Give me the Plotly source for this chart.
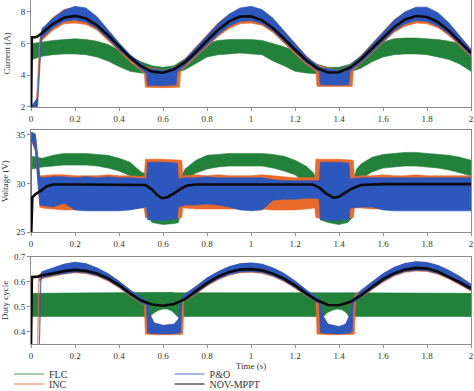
import plotly.graph_objects as go
from plotly.subplots import make_subplots

# ---------------- Current panel ----------------
T_NOV_I = [0, 0.004, 0.02, 0.03, 0.05, 0.10, 0.15, 0.20, 0.25, 0.30, 0.35, 0.40, 0.45, 0.50,
           0.55, 0.60, 0.65, 0.70, 0.75, 0.80, 0.85, 0.90, 0.95, 1.00, 1.05, 1.10, 1.15, 1.20,
           1.25, 1.30, 1.35, 1.40, 1.45, 1.50, 1.55, 1.60, 1.65, 1.70, 1.75, 1.80, 1.85, 1.90,
           1.95, 2.00]
NOV_I = [1.5, 6.4, 6.4, 6.45, 6.67, 7.25, 7.63, 7.75, 7.58, 7.15, 6.53, 5.82, 5.13, 4.57,
         4.23, 4.16, 4.37, 4.83, 5.47, 6.18, 6.86, 7.40, 7.70, 7.72, 7.47, 6.98, 6.33, 5.61,
         4.96, 4.45, 4.18, 4.19, 4.48, 5.01, 5.68, 6.40, 7.03, 7.52, 7.74, 7.68, 7.35, 6.80,
         6.12, 5.42]

T_PO_I = [0, 0.03, 0.045, 0.05, 0.10, 0.15, 0.20, 0.25, 0.30, 0.35, 0.40, 0.45, 0.50,
          0.525, 0.53, 0.60, 0.66, 0.665,
          0.70, 0.75, 0.80, 0.85, 0.90, 0.95, 1.00, 1.05, 1.10, 1.15, 1.20, 1.25, 1.30,
          1.31, 1.315, 1.40, 1.445, 1.45,
          1.50, 1.55, 1.60, 1.65, 1.70, 1.75, 1.80, 1.85, 1.90, 1.95, 2.00]
PO_I_UP = [2.0, 2.6, 6.5, 6.95, 7.6, 8.1, 8.35, 8.25, 7.7, 6.85, 6.05, 5.3, 4.75,
           4.5, 4.45, 4.3, 4.5, 4.55,
           5.0, 5.75, 6.5, 7.25, 7.85, 8.25, 8.35, 8.15, 7.6, 6.8, 5.95, 5.2, 4.65,
           4.55, 4.5, 4.3, 4.55, 4.6,
           5.2, 5.95, 6.75, 7.45, 8.0, 8.3, 8.3, 7.95, 7.3, 6.5, 5.65]
PO_I_LO = [2.0, 2.0, 5.6, 6.35, 7.0, 7.4, 7.5, 7.35, 6.95, 6.3, 5.6, 4.95, 4.4,
           4.1, 3.35, 3.35, 3.4, 4.2,
           4.6, 5.2, 5.9, 6.55, 7.1, 7.4, 7.45, 7.25, 6.8, 6.15, 5.45, 4.8, 4.3,
           4.25, 3.4, 3.38, 3.4, 4.25,
           4.8, 5.45, 6.15, 6.8, 7.25, 7.45, 7.4, 7.1, 6.6, 5.95, 5.25]

T_INC_I = [0, 0.025, 0.04, 0.05, 0.10, 0.15, 0.20, 0.25, 0.30, 0.35, 0.40, 0.45, 0.50,
           0.515, 0.52, 0.60, 0.675, 0.68,
           0.70, 0.75, 0.80, 0.85, 0.90, 0.95, 1.00, 1.05, 1.10, 1.15, 1.20, 1.25,
           1.295, 1.30, 1.40, 1.46, 1.465,
           1.50, 1.55, 1.60, 1.65, 1.70, 1.75, 1.80, 1.85, 1.90, 1.95, 2.00]
INC_I_UP = [2.0, 2.4, 6.3, 6.9, 7.65, 8.15, 8.3, 8.15, 7.6, 6.8, 6.0, 5.3, 4.75,
            4.6, 4.55, 4.3, 4.6, 4.65,
            5.05, 5.8, 6.55, 7.3, 7.85, 8.2, 8.25, 8.05, 7.55, 6.8, 6.0, 5.25,
            4.7, 4.65, 4.3, 4.65, 4.7,
            5.25, 6.0, 6.8, 7.5, 8.0, 8.25, 8.2, 7.85, 7.25, 6.45, 5.6]
INC_I_LO = [2.0, 2.0, 5.5, 6.2, 6.85, 7.25, 7.3, 7.2, 6.85, 6.2, 5.5, 4.85, 4.3,
            4.1, 3.25, 3.22, 3.25, 4.3,
            4.5, 5.1, 5.8, 6.45, 6.95, 7.25, 7.3, 7.15, 6.7, 6.05, 5.35, 4.7,
            4.25, 3.3, 3.3, 3.3, 4.3,
            4.7, 5.35, 6.05, 6.7, 7.1, 7.3, 7.25, 7.0, 6.5, 5.85, 5.15]

T_FLC_I = [0.005, 0.05, 0.10, 0.15, 0.20, 0.25, 0.30, 0.35, 0.40, 0.45, 0.50,
           0.55, 0.60, 0.65, 0.70, 0.75, 0.80, 0.85, 0.90, 0.95, 1.00,
           1.05, 1.10, 1.15, 1.20, 1.25, 1.30, 1.35, 1.40, 1.45, 1.50,
           1.55, 1.60, 1.65, 1.70, 1.75, 1.80, 1.85, 1.90, 1.95, 2.00]
FLC_I_UP = [6.0, 6.1, 6.2, 6.25, 6.3, 6.25, 6.15, 5.95, 5.6, 5.2, 4.85,
            4.6, 4.5, 4.6, 5.05, 5.6, 6.0, 6.2, 6.25, 6.25, 6.25,
            6.2, 6.0, 5.8, 5.55, 5.1, 4.7, 4.5, 4.5, 4.7, 5.2,
            5.75, 6.1, 6.3, 6.35, 6.35, 6.3, 6.25, 6.15, 6.0, 5.55]
FLC_I_LO = [5.0, 5.2, 5.3, 5.35, 5.35, 5.3, 5.15, 4.9, 4.55, 4.25, 4.15,
            4.1, 4.1, 4.1, 4.35, 4.75, 5.15, 5.3, 5.35, 5.4, 5.35,
            5.3, 4.9, 4.6, 4.25, 4.15, 4.1, 4.1, 4.1, 4.2, 4.45,
            4.85, 5.15, 5.3, 5.35, 5.35, 5.3, 5.15, 5.0, 4.7, 4.25]

# ---------------- Voltage panel ----------------
T_NOV_V = [0, 0.006, 0.02, 0.035, 0.05, 0.07, 0.09, 0.10, 0.20, 0.30, 0.40, 0.50,
           0.52, 0.55, 0.575, 0.595, 0.62, 0.65, 0.68, 0.71, 0.75, 0.90, 1.10, 1.28,
           1.31, 1.34, 1.375, 1.40, 1.43, 1.46, 1.50, 1.60, 1.80, 2.00]
NOV_V = [24.0, 28.6, 28.9, 29.1, 29.35, 29.7, 29.85, 29.9, 29.9, 29.9, 29.9, 29.9,
         29.85, 29.4, 28.8, 28.5, 28.6, 29.0, 29.45, 29.8, 29.9, 29.9, 29.9, 29.9,
         29.6, 29.0, 28.55, 28.65, 29.1, 29.5, 29.85, 29.95, 29.95, 29.95]

T_PO_V = [0, 0.002, 0.02, 0.03, 0.04,
          0.05, 0.10, 0.15, 0.20, 0.25, 0.30, 0.35, 0.40, 0.45, 0.50,
          0.525, 0.53, 0.60, 0.665, 0.67,
          0.70, 0.75, 0.80, 0.85, 0.90, 0.95, 1.00, 1.05, 1.10, 1.15, 1.20, 1.25, 1.30,
          1.31, 1.315, 1.40, 1.445, 1.45,
          1.50, 1.55, 1.60, 1.65, 1.70, 1.75, 1.80, 1.85, 1.90, 1.95, 2.00]
PO_V_UP = [24.5, 35.3, 35.1, 33.0, 30.7,
           30.6, 30.7, 30.7, 30.6, 30.7, 30.6, 30.7, 30.6, 30.6, 30.5,
           30.5, 32.2, 32.2, 32.1, 30.5,
           30.6, 30.6, 30.7, 30.6, 30.6, 30.6, 30.6, 30.6, 30.4, 30.3, 30.3, 30.3, 30.3,
           30.3, 32.2, 32.2, 32.1, 30.5,
           30.6, 30.6, 30.6, 30.6, 30.6, 30.6, 30.6, 30.6, 30.6, 30.6, 30.6]
PO_V_LO = [24.5, 34.5, 33.5, 30.5, 27.8,
           27.8, 27.6, 28.0, 27.3, 27.2, 27.2, 27.2, 27.2, 27.3, 27.5,
           27.6, 26.3, 26.2, 26.4, 27.6,
           27.8, 27.8, 27.9, 27.8, 27.6, 27.3, 27.2, 27.3, 28.3, 28.4, 28.4, 28.5, 28.5,
           28.4, 26.3, 26.2, 26.4, 27.5,
           27.6, 27.6, 27.3, 27.2, 27.2, 27.2, 27.2, 27.2, 27.2, 27.2, 27.2]

T_INC_V = [0, 0.002, 0.02, 0.03, 0.04, 0.05,
           0.10, 0.15, 0.20, 0.25, 0.30, 0.35, 0.40, 0.45, 0.50,
           0.515, 0.52, 0.60, 0.685, 0.69,
           0.70, 0.75, 0.80, 0.85, 0.90, 0.95, 1.00, 1.05, 1.10, 1.15, 1.20, 1.25,
           1.29, 1.295, 1.40, 1.465, 1.47,
           1.50, 1.55, 1.60, 1.65, 1.70, 1.75, 1.80, 1.85, 1.90, 1.95, 2.00]
INC_V_UP = [24.5, 35.2, 35.0, 32.8, 30.8, 30.8,
            30.9, 30.9, 30.8, 30.8, 30.8, 30.9, 30.8, 30.8, 30.7,
            30.7, 32.5, 32.5, 32.4, 30.7,
            30.8, 30.9, 30.8, 30.9, 30.8, 30.8, 30.8, 30.9, 30.8, 30.7, 30.6, 30.6,
            30.6, 32.5, 32.5, 32.4, 30.7,
            30.8, 30.8, 30.9, 30.8, 30.8, 30.9, 30.8, 30.8, 30.8, 30.8, 30.8]
INC_V_LO = [24.5, 34.4, 33.3, 30.3, 27.6, 27.5,
            27.4, 27.3, 27.3, 27.3, 27.3, 27.3, 27.3, 27.4, 27.5,
            27.5, 26.5, 26.4, 26.5, 27.5,
            27.5, 27.4, 27.4, 27.4, 27.4, 27.4, 27.4, 27.4, 27.3, 27.3, 27.3, 27.4,
            27.5, 26.5, 26.4, 26.5, 27.5,
            27.5, 27.4, 27.4, 27.4, 27.4, 27.4, 27.4, 27.4, 27.4, 27.4, 27.4]

T_FLC_V = [0.005, 0.05, 0.10, 0.15, 0.20, 0.25, 0.30, 0.35, 0.40, 0.45,
           0.48, 0.50, 0.52, 0.535, 0.55, 0.60, 0.65, 0.67, 0.69, 0.70,
           0.75, 0.80, 0.85, 0.90, 0.95, 1.00, 1.05, 1.10, 1.15, 1.20,
           1.25, 1.28, 1.30, 1.315, 1.35, 1.40, 1.44, 1.46, 1.48, 1.50,
           1.55, 1.60, 1.65, 1.70, 1.75, 1.80, 1.85, 1.90, 1.95, 2.00]
FLC_V_UP = [32.8, 32.6, 32.9, 33.1, 33.1, 33.1, 33.0, 32.9, 32.6, 32.2,
            31.6, 31.2, 31.0, 28.5, 27.0, 26.8, 27.0, 29.5, 31.0, 31.5,
            32.4, 32.9, 33.0, 33.1, 33.1, 33.1, 33.1, 33.0, 32.8, 32.4,
            31.8, 31.2, 30.5, 27.5, 27.0, 26.8, 27.0, 30.0, 31.5, 32.0,
            32.7, 33.0, 33.1, 33.2, 33.2, 33.1, 33.0, 32.9, 32.7, 32.4]
FLC_V_LO = [31.5, 31.7, 31.8, 31.9, 31.9, 31.9, 31.8, 31.6, 31.3, 30.8,
            30.2, 29.5, 27.0, 26.5, 26.0, 25.8, 25.9, 26.0, 28.0, 30.3,
            31.1, 31.5, 31.7, 31.8, 31.8, 31.8, 31.8, 31.6, 31.3, 30.9,
            30.1, 29.0, 27.0, 26.3, 26.0, 25.8, 26.0, 26.5, 29.5, 30.5,
            31.2, 31.6, 31.7, 31.8, 31.8, 31.7, 31.6, 31.4, 31.1, 30.8]

# ---------------- Duty cycle panel ----------------
T_NOV_D = [0, 0.004, 0.03, 0.05, 0.10, 0.15, 0.20, 0.25, 0.30, 0.35, 0.40, 0.45, 0.50,
           0.55, 0.60, 0.65, 0.70, 0.75, 0.80, 0.85, 0.90, 0.95, 1.00,
           1.05, 1.10, 1.15, 1.20, 1.25, 1.30, 1.35, 1.40, 1.45, 1.50,
           1.55, 1.60, 1.65, 1.70, 1.75, 1.80, 1.85, 1.90, 1.95, 2.00]
NOV_D = [0.34, 0.618, 0.62, 0.625, 0.633, 0.642, 0.647, 0.643, 0.632, 0.613, 0.586, 0.553, 0.524,
         0.508, 0.503, 0.51, 0.53, 0.562, 0.594, 0.62, 0.638, 0.648, 0.65,
         0.645, 0.632, 0.612, 0.585, 0.553, 0.525, 0.506, 0.505, 0.518, 0.545,
         0.578, 0.61, 0.633, 0.648, 0.655, 0.652, 0.64, 0.62, 0.597, 0.572]

T_PO_D = [0, 0.038, 0.045, 0.05,
          0.10, 0.15, 0.20, 0.25, 0.30, 0.35, 0.40, 0.45, 0.50,
          0.525, 0.53, 0.54, 0.56, 0.60, 0.65, 0.67, 0.68, 0.685,
          0.70, 0.75, 0.80, 0.85, 0.90, 0.95, 1.00, 1.05, 1.10, 1.15, 1.20, 1.25, 1.30,
          1.31, 1.315, 1.33, 1.35, 1.40, 1.43, 1.45, 1.46, 1.465,
          1.50, 1.55, 1.60, 1.65, 1.70, 1.75, 1.80, 1.85, 1.90, 1.95, 2.00]
PO_D_UP = [0.34, 0.34, 0.63, 0.64,
           0.655, 0.67, 0.678, 0.672, 0.655, 0.632, 0.602, 0.567, 0.537,
           0.525, 0.515, 0.47, 0.435, 0.425, 0.43, 0.45, 0.52, 0.535,
           0.55, 0.58, 0.615, 0.64, 0.66, 0.672, 0.675, 0.67, 0.655, 0.633, 0.603, 0.568, 0.537,
           0.533, 0.515, 0.46, 0.43, 0.42, 0.43, 0.47, 0.52, 0.53,
           0.565, 0.6, 0.632, 0.657, 0.673, 0.68, 0.677, 0.665, 0.645, 0.62, 0.59]
PO_D_LO = [0.34, 0.34, 0.6, 0.615,
           0.625, 0.633, 0.638, 0.635, 0.624, 0.605, 0.578, 0.545, 0.516,
           0.505, 0.395, 0.393, 0.391, 0.39, 0.391, 0.393, 0.395, 0.52,
           0.525, 0.553, 0.585, 0.61, 0.628, 0.638, 0.64, 0.636, 0.623, 0.603, 0.576, 0.545, 0.517,
           0.512, 0.395, 0.393, 0.392, 0.39, 0.392, 0.395, 0.4, 0.515,
           0.538, 0.57, 0.6, 0.625, 0.64, 0.645, 0.643, 0.632, 0.613, 0.59, 0.565]

T_INC_D = [0, 0.03, 0.036, 0.05,
           0.10, 0.15, 0.20, 0.25, 0.30, 0.35, 0.40, 0.45, 0.50,
           0.515, 0.52, 0.54, 0.56, 0.60, 0.65, 0.68, 0.69, 0.695,
           0.70, 0.75, 0.80, 0.85, 0.90, 0.95, 1.00, 1.05, 1.10, 1.15, 1.20, 1.25,
           1.295, 1.30, 1.33, 1.35, 1.40, 1.43, 1.46, 1.47, 1.475,
           1.50, 1.55, 1.60, 1.65, 1.70, 1.75, 1.80, 1.85, 1.90, 1.95, 2.00]
INC_D_UP = [0.34, 0.34, 0.625, 0.638,
            0.652, 0.668, 0.675, 0.67, 0.653, 0.63, 0.6, 0.565, 0.535,
            0.528, 0.525, 0.465, 0.43, 0.42, 0.425, 0.45, 0.53, 0.545,
            0.55, 0.58, 0.613, 0.638, 0.658, 0.67, 0.673, 0.668, 0.653, 0.63, 0.6, 0.566,
            0.54, 0.535, 0.455, 0.425, 0.415, 0.425, 0.47, 0.54, 0.55,
            0.563, 0.598, 0.63, 0.655, 0.671, 0.678, 0.675, 0.663, 0.643, 0.618, 0.588]
INC_D_LO = [0.34, 0.34, 0.6, 0.612,
            0.622, 0.63, 0.635, 0.632, 0.621, 0.602, 0.575, 0.542, 0.513,
            0.508, 0.39, 0.388, 0.387, 0.386, 0.387, 0.388, 0.39, 0.53,
            0.522, 0.55, 0.582, 0.607, 0.625, 0.635, 0.637, 0.633, 0.62, 0.6, 0.573, 0.542,
            0.52, 0.39, 0.388, 0.387, 0.386, 0.387, 0.388, 0.39, 0.535,
            0.535, 0.567, 0.597, 0.622, 0.637, 0.642, 0.64, 0.629, 0.61, 0.587, 0.562]

T_FLC_D = [0.004, 0.54, 0.56, 0.58, 0.60, 0.62, 0.64, 0.655, 0.665,
           1.33, 1.345, 1.37, 1.39, 1.41, 1.43, 1.445, 2.00]
FLC_D_UP = [0.553, 0.555, 0.558, 0.556, 0.557, 0.556, 0.557, 0.555, 0.555,
            0.555, 0.557, 0.556, 0.557, 0.556, 0.555, 0.555, 0.553]
FLC_D_LO = [0.46, 0.46, 0.475, 0.485, 0.49, 0.49, 0.482, 0.47, 0.46,
            0.46, 0.475, 0.485, 0.49, 0.488, 0.478, 0.46, 0.46]

# ---------------- Axis ticks ----------------
X_TICKS = [0, 0.2, 0.4, 0.6, 0.8, 1.0, 1.2, 1.4, 1.6, 1.8, 2.0]
X_TICKTEXT = ["0", "0.2", "0.4", "0.6", "0.8", "1", "1.2", "1.4", "1.6", "1.8", "2"]
I_TICKS = [2, 4, 6, 8]
V_TICKS = [25, 30, 35]
D_TICKS = [0.4, 0.5, 0.6, 0.7]
D_TICKTEXT = ["0.4", "0.5", "0.6", "0.7"]

SERIES = ["FLC", "INC", "P&O", "NOV-MPPT"]
COLORS = {"FLC": "#23823a", "INC": "#ea6a2a", "P&O": "#2c57bd", "NOV-MPPT": "#0a0a0a"}
LEGEND_COLORS = {"FLC": "#86bf93", "INC": "#f2a57e", "P&O": "#8aa2da", "NOV-MPPT": "#5a5a5a"}
LEGEND_SLOT = {"FLC": "legend", "P&O": "legend2", "INC": "legend3", "NOV-MPPT": "legend4"}

FONT = "Liberation Serif"

fig = make_subplots(rows=3, cols=1)


def band(t, up, lo, name, row):
    fig.add_trace(go.Scatter(
        x=list(t) + list(t)[::-1], y=list(up) + list(lo)[::-1],
        mode="lines", fill="toself", fillcolor=COLORS[name],
        line=dict(color=COLORS[name], width=0.6),
        name=name, showlegend=False, hoverinfo="skip"), row=row, col=1)


def line(t, v, row):
    fig.add_trace(go.Scatter(
        x=t, y=v, mode="lines", line=dict(color=COLORS["NOV-MPPT"], width=2.6),
        name="NOV-MPPT", showlegend=False), row=row, col=1)


band(T_FLC_I, FLC_I_UP, FLC_I_LO, "FLC", 1)
band(T_INC_I, INC_I_UP, INC_I_LO, "INC", 1)
band(T_PO_I, PO_I_UP, PO_I_LO, "P&O", 1)
line(T_NOV_I, NOV_I, 1)

band(T_FLC_V, FLC_V_UP, FLC_V_LO, "FLC", 2)
band(T_INC_V, INC_V_UP, INC_V_LO, "INC", 2)
band(T_PO_V, PO_V_UP, PO_V_LO, "P&O", 2)
line(T_NOV_V, NOV_V, 2)

band(T_FLC_D, FLC_D_UP, FLC_D_LO, "FLC", 3)
band(T_INC_D, INC_D_UP, INC_D_LO, "INC", 3)
band(T_PO_D, PO_D_UP, PO_D_LO, "P&O", 3)
line(T_NOV_D, NOV_D, 3)

# legend entries
for name in SERIES:
    fig.add_trace(go.Scatter(
        x=[None], y=[None], mode="lines", name=name,
        line=dict(color=LEGEND_COLORS[name], width=1.5),
        legend=LEGEND_SLOT[name]))

axis_common = dict(showline=True, linecolor="#8c8c8c", linewidth=1, mirror=True,
                   ticks="outside", ticklen=3, tickcolor="#8c8c8c", showgrid=False,
                   zeroline=False, tickfont=dict(family=FONT, size=9, color="#333"))

for i in (1, 2, 3):
    fig.update_xaxes(range=[0, 2], tickvals=X_TICKS, ticktext=X_TICKTEXT,
                     domain=[0, 1], row=i, col=1, **axis_common)

title_font = dict(family=FONT, size=9, color="#333")
fig.update_yaxes(range=[2, 8.75], tickvals=I_TICKS, domain=[0.689, 1.0], row=1, col=1,
                 title=dict(text="Current (A)", font=title_font, standoff=8), **axis_common)
fig.update_yaxes(range=[25, 35.5], tickvals=V_TICKS, domain=[0.3247, 0.622], row=2, col=1,
                 title=dict(text="Voltage (V)", font=title_font, standoff=8), **axis_common)
fig.update_yaxes(range=[0.35, 0.7], tickvals=D_TICKS, ticktext=D_TICKTEXT,
                 domain=[0, 0.254], row=3, col=1,
                 title=dict(text="Duty cycle", font=title_font, standoff=6), **axis_common)
fig.update_xaxes(title=dict(text="Time (s)", font=title_font, standoff=2), row=3, col=1)

legend_common = dict(orientation="v", yanchor="middle", xanchor="left",
                     font=dict(family=FONT, size=10, color="#333"),
                     bgcolor="rgba(0,0,0,0)", borderwidth=0, tracegroupgap=0)

fig.update_layout(
    width=474, height=391,
    margin=dict(l=31, r=3, t=0, b=47, autoexpand=False),
    paper_bgcolor="white", plot_bgcolor="white",
    font=dict(family=FONT, size=9, color="#333"),
    legend=dict(x=-0.05, y=-0.087, **legend_common),
    legend2=dict(x=0.315, y=-0.087, **legend_common),
    legend3=dict(x=-0.05, y=-0.116, **legend_common),
    legend4=dict(x=0.315, y=-0.116, **legend_common),
)

fig.write_html("out.html", config={"displayModeBar": False},
               post_script="document.body.style.margin='0px';")
